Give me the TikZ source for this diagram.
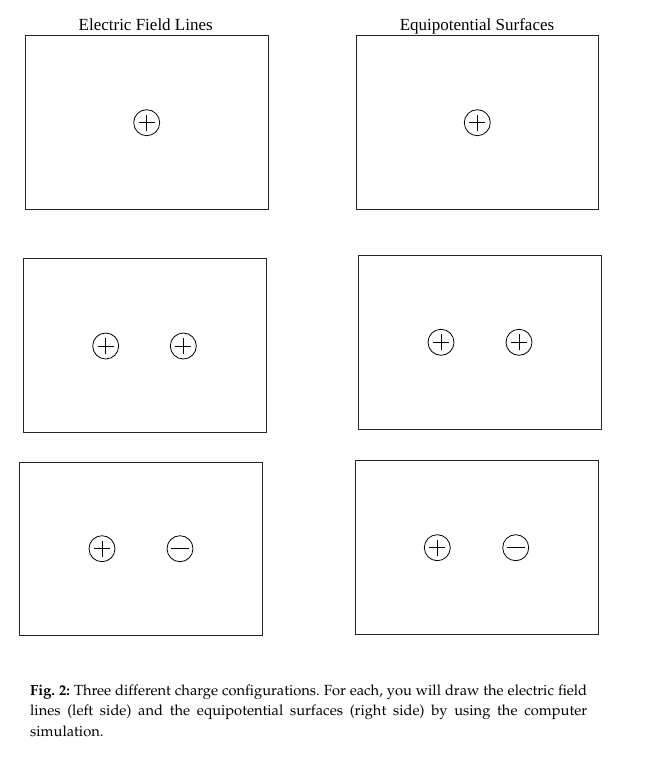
\documentclass[tikz,border=0pt]{standalone}
\usepackage[T1]{fontenc}
\usepackage{fontspec}
\setmainfont{Liberation Serif}
\newcommand{\palfont}{\fontencoding{T1}\fontfamily{ppl}\selectfont}
\begin{document}
\begin{tikzpicture}[x=1pt,y=-1pt,
  panel/.style={draw=black!85, line width=1pt},
  chargebase/.style={circle, draw, line width=0.8pt, minimum size=26pt, inner sep=0pt},
  pluscharge/.style={chargebase, path picture={
     \draw[line width=0.8pt] ([xshift=-8pt]path picture bounding box.center) -- ([xshift=8pt]path picture bounding box.center);
     \draw[line width=0.8pt] ([yshift=-8pt]path picture bounding box.center) -- ([yshift=8pt]path picture bounding box.center);}},
  minuscharge/.style={chargebase, path picture={
     \draw[line width=0.8pt] ([xshift=-9pt]path picture bounding box.center) -- ([xshift=9pt]path picture bounding box.center);}},
  heading/.style={font=\fontsize{17}{20}\selectfont, inner sep=0pt, anchor=base}
]
\useasboundingbox (0,0) rectangle (658,777);

% headings
\node[heading] (tl) at (145.7,30.5) {Electric Field Lines};
\node[heading] (tr) at (477,30.5) {Equipotential Surfaces};

% panels
\draw[panel] (25.3,35.7) rectangle (268.3,209.3);
\draw[panel] (356.3,35.7) rectangle (598.7,209.0);
\draw[panel] (23.0,258.3) rectangle (266.0,432.3);
\draw[panel] (358.7,255.7) rectangle (601.7,429.3);
\draw[panel] (19.7,462.3) rectangle (262.7,635.7);
\draw[panel] (355.0,460.7) rectangle (598.0,634.3);

% charges
\node[pluscharge] (a1) at (146.7,122.7) {};
\node[pluscharge] (b1) at (477.3,122.7) {};
\node[pluscharge] (a2) at (105.7,346.0) {};
\node[pluscharge] (a3) at (183.3,346.0) {};
\node[pluscharge] (b2) at (441.0,342.3) {};
\node[pluscharge] (b3) at (519.0,342.3) {};
\node[pluscharge] (a4) at (102.0,548.7) {};
\node[minuscharge] (a5) at (180.0,548.7) {};
\node[pluscharge] (b4) at (437.3,547.7) {};
\node[minuscharge] (b5) at (515.7,547.7) {};

% caption
\node[anchor=base west, inner sep=0pt, text width=557pt, align=justify,
      font=\palfont\fontsize{14.7}{20.7}\selectfont\frenchspacing] (cap) at (30,695)
  {\textbf{Fig. 2:} Three different charge configurations. For each, you will draw the electric field\linebreak
   lines (left side) and the equipotential surfaces (right side) by using the computer\linebreak
   simulation.};
\end{tikzpicture}
\end{document}
